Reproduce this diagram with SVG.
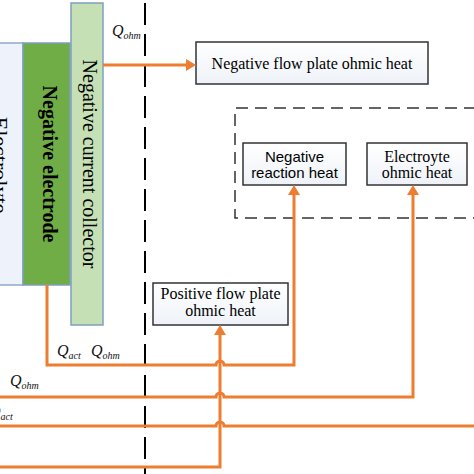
<svg xmlns="http://www.w3.org/2000/svg" width="474" height="474" viewBox="0 0 474 474">
<style>
.serif{font-family:"Liberation Serif","Times New Roman",serif;fill:#000}
.sans{font-family:"Liberation Sans",Arial,sans-serif;fill:#000}
.q{font-family:"Liberation Serif","Times New Roman",serif;font-style:italic;font-size:16px;fill:#111}
.sub{font-size:10px}
.box{fill:url(#bg);stroke:#333;stroke-width:1.5}
.flow{fill:none;stroke:#ed7d31;stroke-width:3}
</style>
<defs>
<linearGradient id="bg" x1="0" y1="0" x2="0" y2="1">
<stop offset="0" stop-color="#ffffff"/>
<stop offset="1" stop-color="#eef2f8"/>
</linearGradient>
<marker id="arr" markerUnits="userSpaceOnUse" markerWidth="12" markerHeight="12" refX="3" refY="6" orient="auto">
<path d="M0,0 L10,6 L0,12 z" fill="#ed7d31"/>
</marker>
</defs>

<g id="electrolyte">
<rect x="-2" y="43" width="25" height="242" fill="#eef3fb" stroke="#8eaacc" stroke-width="1.5"/>
<text class="serif" font-size="22" text-anchor="middle" transform="translate(-7,165) rotate(90)">Electrolyte</text>
</g>
<g id="negative-electrode">
<rect x="23" y="43" width="47" height="242" fill="#70ad47" stroke="#7f9fbf" stroke-width="1.5"/>
<text class="serif" font-size="20" font-weight="bold" text-anchor="middle" fill="#1a1a1a" transform="translate(43,164) rotate(90)">Negative electrode</text>
</g>
<g id="negative-current-collector">
<rect x="71" y="3" width="32" height="322" fill="#c5e0b4" stroke="#7f9fbf" stroke-width="1.5"/>
<text class="serif" font-size="20" text-anchor="middle" transform="translate(83,164) rotate(90)">Negative current collector</text>
</g>

<line x1="145" y1="3" x2="145" y2="474" stroke="#000" stroke-width="2" stroke-dasharray="22 9"/>

<g id="dashed-group">
<path d="M476 108 H235 V218 H476" fill="none" stroke="#333" stroke-width="1.5" stroke-dasharray="12 7"/>
</g>

<g id="negative-flow-plate">
<rect class="box" x="196" y="42" width="232" height="42"/>
<text class="serif" font-size="16" x="312" y="69" text-anchor="middle">Negative flow plate ohmic heat</text>
</g>
<g id="negative-reaction-heat">
<rect class="box" x="243" y="143" width="103" height="42"/>
<text class="sans" font-size="15" x="294.5" y="162" text-anchor="middle">Negative</text>
<text class="sans" font-size="15" x="294.5" y="178" text-anchor="middle">reaction heat</text>
</g>
<g id="electrolyte-ohmic-heat">
<rect class="box" x="367" y="143" width="100" height="42"/>
<text class="serif" font-size="16" x="417" y="162" text-anchor="middle">Electroyte</text>
<text class="serif" font-size="16" x="417" y="178" text-anchor="middle">ohmic heat</text>
</g>
<g id="positive-flow-plate">
<rect class="box" x="153" y="283" width="135" height="42"/>
<text class="serif" font-size="16" x="220.5" y="299" text-anchor="middle">Positive flow plate</text>
<text class="serif" font-size="16" x="220.5" y="316" text-anchor="middle">ohmic heat</text>
</g>

<g id="connectors">
<path class="flow" d="M103 65 H189" marker-end="url(#arr)"/>
<path class="flow" d="M47 285 V365 H216 a4 4 0 0 1 8 0 H294 V192" marker-end="url(#arr)"/>
<path class="flow" d="M-2 397 H216 a4 4 0 0 1 8 0 H413 V192" marker-end="url(#arr)"/>
<path class="flow" d="M-2 426 H216 a4 4 0 0 1 8 0 H476"/>
<path class="flow" d="M-2 467 H220 V332" marker-end="url(#arr)"/>
</g>

<g id="labels">
<text class="q" x="112" y="36">Q<tspan class="sub" dy="3">ohm</tspan></text>
<text class="q" x="57" y="356">Q<tspan class="sub" dy="3">act</tspan></text>
<text class="q" x="91" y="356">Q<tspan class="sub" dy="3">ohm</tspan></text>
<text class="q" x="10" y="386">Q<tspan class="sub" dy="3">ohm</tspan></text>
<text class="q" x="-11" y="417">Q<tspan class="sub" dy="3">act</tspan></text>
</g>
</svg>
